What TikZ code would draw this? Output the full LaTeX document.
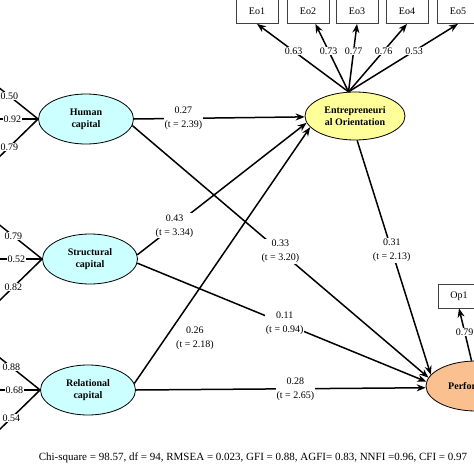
\documentclass[tikz,border=0pt]{standalone}
\usepackage{fontspec}
\setmainfont{Liberation Serif}
\usetikzlibrary{shapes.geometric,arrows.meta}

\definecolor{capblue}{HTML}{CCFFFF}
\definecolor{eoyellow}{HTML}{FFFF99}
\definecolor{perforange}{HTML}{FAC090}

\tikzstyle{latent} = [ellipse, draw, line width=0.8pt, minimum width=95pt, minimum height=50pt, inner sep=0pt, align=center, font=\fontsize{10}{12}\selectfont\bfseries]
\tikzstyle{manifest} = [rectangle, draw=black!75, line width=0.8pt, fill=white, minimum width=42pt, minimum height=25pt, font=\fontsize{10}{12}\selectfont]
\tikzstyle{coef} = [fill=white, inner sep=1pt, align=center, font=\fontsize{10}{14}\selectfont]
\tikzstyle{link} = [-{Stealth[length=9pt,width=7pt]}, line width=1.5pt]

\begin{document}
\begin{tikzpicture}[x=1pt,y=-1pt]
\useasboundingbox (0,0) rectangle (474,474);
\clip (0,0) rectangle (474,474);

% latent variables
\node[latent, fill=capblue] (hc) at (86,119) {Human\\capital};
\node[latent, fill=capblue] (sc) at (90,259) {Structural\\capital};
\node[latent, fill=capblue] (rc) at (88,390) {Relational\\capital};
\node[latent, fill=eoyellow, minimum width=100pt, minimum height=48pt] (eo) at (355,116) {Entrepreneuri\\al Orientation};
\node[latent, fill=perforange, minimum width=100pt] (perf) at (476,386) {Performance};

% observed variables
\foreach \i/\x in {1/257,2/308,3/357,4/407,5/458}
    \node[manifest] (eo\i) at (\x,11) {Eo\i};
\node[manifest, minimum height=24pt] (op1) at (459,296) {Op1};

% loadings
\draw[link] (eo.105) -- node[coef, pos=0.6] {0.63} (eo1.south);
\draw[link] (eo.105) -- node[coef, pos=0.6] {0.73} (eo2.-60);
\draw[link] (eo.105) -- node[coef, pos=0.6] {0.77} (eo3.south);
\draw[link] (eo.105) -- node[coef, pos=0.6] {0.76} (eo4.south);
\draw[link] (eo.105) -- node[coef, pos=0.6] {0.53} (eo5.south);
\draw[link] (perf.100) -- node[coef, pos=0.55] {0.79} (op1.south);

\foreach \lv/\a/\b/\c in {hc/0.50/0.92/0.79, sc/0.79/0.52/0.82, rc/0.88/0.68/0.54} {
    \path (\lv.west) ++(-80,-64) coordinate (\lv-u)
          (\lv.west) ++(-80,0) coordinate (\lv-m)
          (\lv.west) ++(-80,78) coordinate (\lv-d);
    \draw[link] (\lv.west) -- node[coef, pos=0.36] {\a} (\lv-u);
    \draw[link] (\lv.west) -- node[coef, pos=0.32] {\b} (\lv-m);
    \draw[link] (\lv.west) -- node[coef, pos=0.36] {\c} (\lv-d);
}

% structural paths
\draw[link] (hc.east) -- node[coef, pos=0.29] {0.27\\(t = 2.39)} (eo.181);
\draw[link] (hc.-8) -- node[coef, pos=0.5] {0.33\\(t = 3.20)} (perf.170);
\draw[link] (sc.5) -- node[coef, pos=0.22] {0.43\\(t = 3.34)} (eo.188);
\draw[link] (sc.-5) -- node[coef, pos=0.51] {0.11\\(t = 0.94)} (perf.175);
\draw[link] (rc.8) -- node[coef, pos=0.177, anchor=west, xshift=9pt] {0.26\\(t = 2.18)} (eo.194);
\draw[link] (rc.east) -- node[coef, pos=0.55] {0.28\\(t = 2.65)} (perf.182);
\draw[link] (eo.-85) -- node[coef, pos=0.47] {0.31\\(t = 2.13)} (perf.166);

% fit indices
\node[font=\fontsize{11}{13}\selectfont] (stats) at (253,458) {Chi-square = 98.57, df = 94, RMSEA = 0.023, GFI = 0.88, AGFI= 0.83, NNFI =0.96, CFI = 0.97};
\end{tikzpicture}
\end{document}
